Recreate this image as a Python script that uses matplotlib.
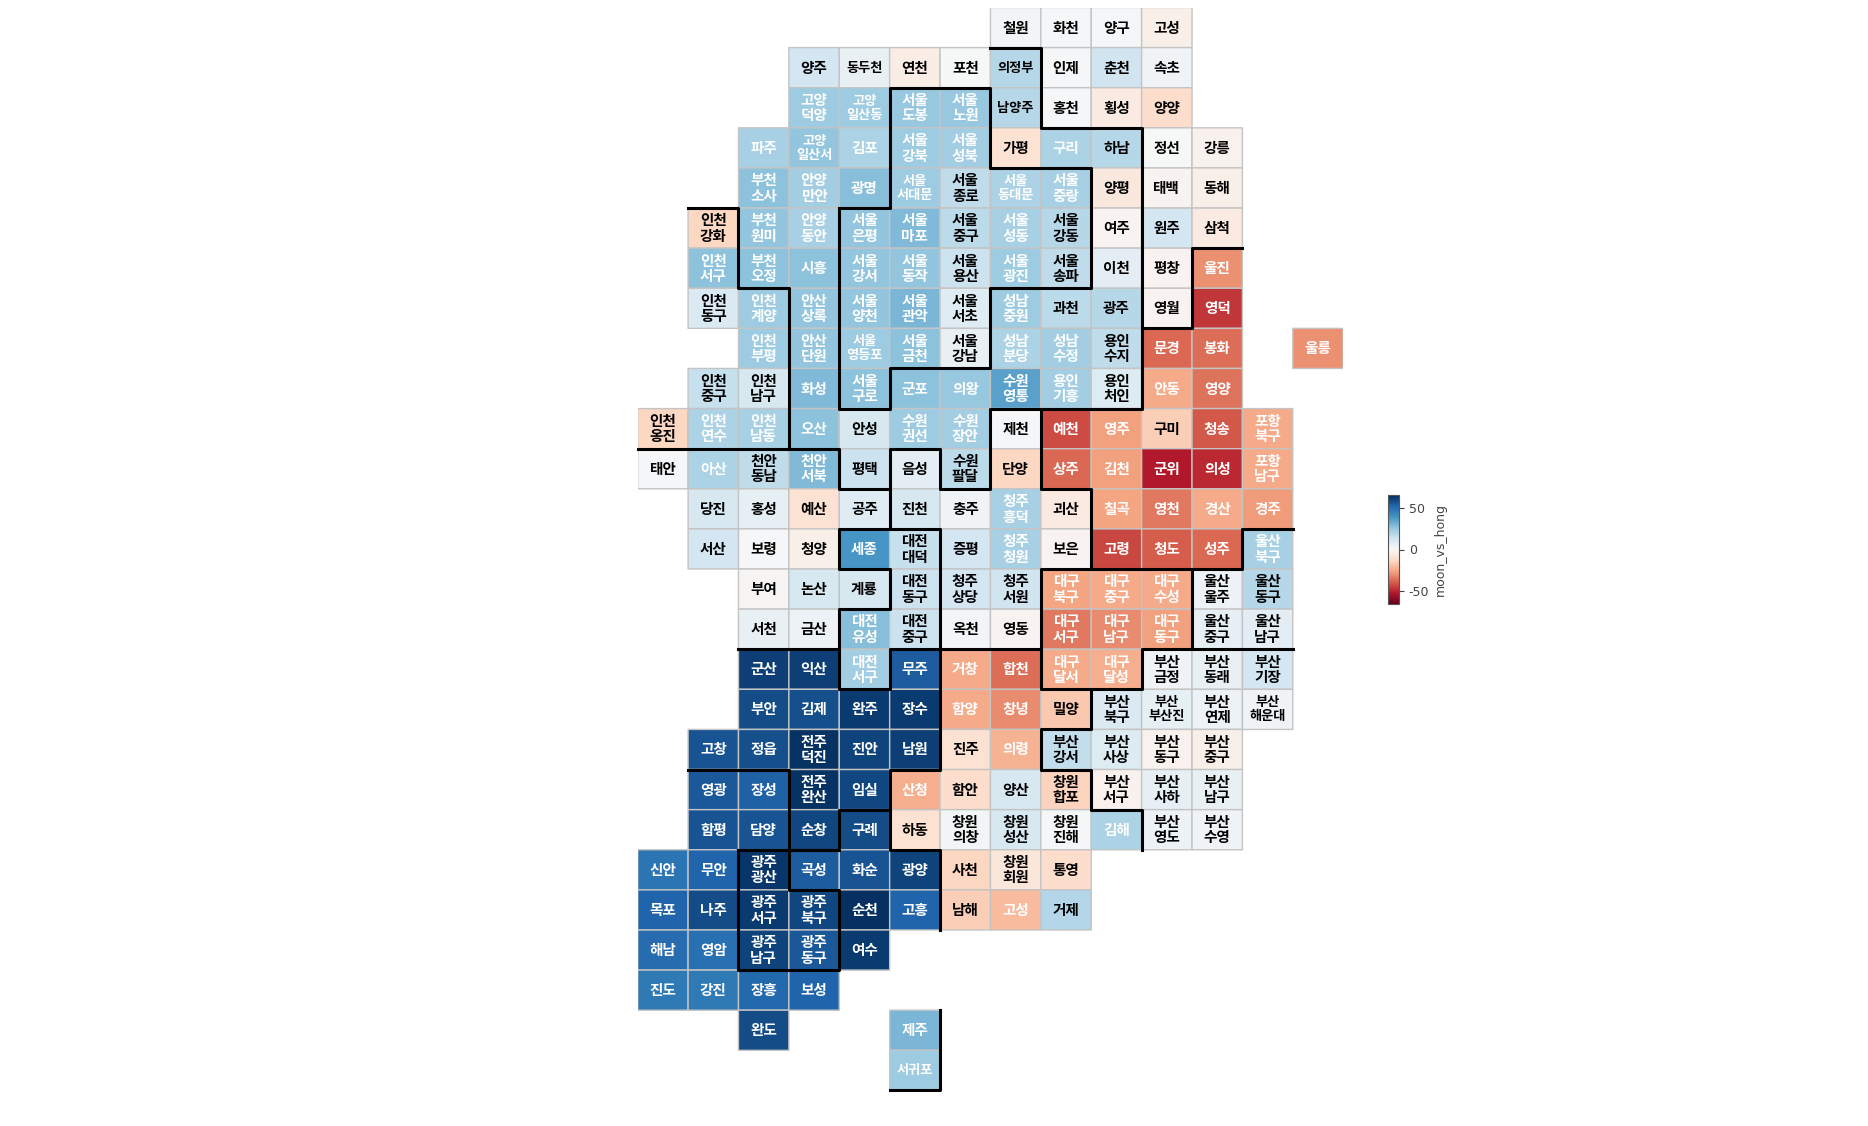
import numpy as np
import matplotlib
matplotlib.use('Agg')
import matplotlib.pyplot as plt

plt.rcParams['font.family'] = ['Noto Sans CJK KR', 'DejaVu Sans']
plt.rcParams['axes.unicode_minus'] = False

_ = ''
n = np.nan

# 지역 이름 (행 = y, 열 = x)
names = [
    [_, _, _, _, _, _, _, '철원', '화천', '양구', '고성(강원)', _, _, _],
    [_, _, _, '양주', '동두천', '연천', '포천', '의정부', '인제', '춘천', '속초', _, _, _],
    [_, _, _, '고양 덕양', '고양 일산동', '서울 도봉', '서울 노원', '남양주', '홍천', '횡성', '양양', _, _, _],
    [_, _, '파주', '고양 일산서', '김포', '서울 강북', '서울 성북', '가평', '구리', '하남', '정선', '강릉', _, _],
    [_, _, '부천 소사', '안양 만안', '광명', '서울 서대문', '서울 종로', '서울 동대문', '서울 중랑', '양평', '태백', '동해', _, _],
    [_, '인천 강화', '부천 원미', '안양 동안', '서울 은평', '서울 마포', '서울 중구', '서울 성동', '서울 강동', '여주', '원주', '삼척', _, _],
    [_, '인천 서구', '부천 오정', '시흥', '서울 강서', '서울 동작', '서울 용산', '서울 광진', '서울 송파', '이천', '평창', '울진', _, _],
    [_, '인천 동구', '인천 계양', '안산 상록', '서울 양천', '서울 관악', '서울 서초', '성남 중원', '과천', '광주', '영월', '영덕', _, _],
    [_, _, '인천 부평', '안산 단원', '서울 영등포', '서울 금천', '서울 강남', '성남 분당', '성남 수정', '용인 수지', '문경', '봉화', _, '울릉'],
    [_, '인천 중구', '인천 남구', '화성', '서울 구로', '군포', '의왕', '수원 영통', '용인 기흥', '용인 처인', '안동', '영양', _, _],
    ['인천 옹진', '인천 연수', '인천 남동', '오산', '안성', '수원 권선', '수원 장안', '제천', '예천', '영주', '구미', '청송', '포항 북구', _],
    ['태안', '아산', '천안 동남', '천안 서북', '평택', '음성', '수원 팔달', '단양', '상주', '김천', '군위', '의성', '포항 남구', _],
    [_, '당진', '홍성', '예산', '공주', '진천', '충주', '청주 흥덕', '괴산', '칠곡', '영천', '경산', '경주', _],
    [_, '서산', '보령', '청양', '세종', '대전 대덕', '증평', '청주 청원', '보은', '고령', '청도', '성주', '울산 북구', _],
    [_, _, '부여', '논산', '계룡', '대전 동구', '청주 상당', '청주 서원', '대구 북구', '대구 중구', '대구 수성', '울산 울주', '울산 동구', _],
    [_, _, '서천', '금산', '대전 유성', '대전 중구', '옥천', '영동', '대구 서구', '대구 남구', '대구 동구', '울산 중구', '울산 남구', _],
    [_, _, '군산', '익산', '대전 서구', '무주', '거창', '합천', '대구 달서', '대구 달성', '부산 금정', '부산 동래', '부산 기장', _],
    [_, _, '부안', '김제', '완주', '장수', '함양', '창녕', '밀양', '부산 북구', '부산 부산진', '부산 연제', '부산 해운대', _],
    [_, '고창', '정읍', '전주 덕진', '진안', '남원', '진주', '의령', '부산 강서', '부산 사상', '부산 동구', '부산 중구', _, _],
    [_, '영광', '장성', '전주 완산', '임실', '산청', '함안', '양산', '창원 합포', '부산 서구', '부산 사하', '부산 남구', _, _],
    [_, '함평', '담양', '순창', '구례', '하동', '창원 의창', '창원 성산', '창원 진해', '김해', '부산 영도', '부산 수영', _, _],
    ['신안', '무안', '광주 광산', '곡성', '화순', '광양', '사천', '창원 회원', '통영', _, _, _, _, _],
    ['목포', '나주', '광주 서구', '광주 북구', '순천', '고흥', '남해', '고성(경남)', '거제', _, _, _, _, _],
    ['해남', '영암', '광주 남구', '광주 동구', '여수', _, _, _, _, _, _, _, _, _],
    ['진도', '강진', '장흥', '보성', _, _, _, _, _, _, _, _, _, _],
    [_, _, '완도', _, _, '제주', _, _, _, _, _, _, _, _],
    [_, _, _, _, _, '서귀포', _, _, _, _, _, _, _, _],
]

# 문재인 - 홍준표 득표율 차이
moon_vs_hong = [
    [n, n, n, n, n, n, n, 2, 1, 1, -4, n, n, n],
    [n, n, n, 12, 5, -5, 0, 19, 1, 13, 3, n, n, n],
    [n, n, n, 24, 24, 25, 25, 19, 1, -6, -12, n, n, n],
    [n, n, 22, 26, 21, 24, 23, -10, 21, 19, 0, -3, n, n],
    [n, n, 27, 23, 28, 24, 17, 21, 22, -7, -2, -4, n, n],
    [n, -14, 26, 22, 26, 29, 18, 22, 19, -2, 12, -6, n, n],
    [n, 27, 27, 27, 26, 26, 14, 24, 17, 7, -2, -30, n, n],
    [n, 10, 24, 26, 26, 30, 8, 24, 18, 19, -2, -47, n, n],
    [n, n, 24, 26, 24, 27, 5, 21, 23, 17, -38, -37, n, -30],
    [n, 15, 11, 29, 27, 27, 25, 36, 23, 9, -25, -36, n, n],
    [-14, 21, 22, 27, 11, 24, 23, 1, -43, -27, -16, -41, -25, n],
    [1, 21, 17, 29, 14, 7, 18, -14, -38, -27, -53, -50, -25, n],
    [n, 11, 6, -10, 8, 11, 3, 22, -6, -26, -35, -25, -28, n],
    [n, 12, 1, -4, 39, 15, 12, 22, -2, -44, -40, -38, 22, n],
    [n, n, -1, 11, 11, 14, 12, 13, -26, -25, -25, 4, 19, n],
    [n, n, 5, 4, 28, 14, 2, -2, -35, -31, -27, 6, 7, n],
    [n, n, 62, 62, 23, 55, -25, -37, -25, -24, 3, 5, 12, n],
    [n, n, 59, 58, 63, 63, -25, -31, -18, 10, 6, 4, 3, n],
    [n, 57, 58, 65, 61, 62, -10, -23, 16, 9, -3, -4, n, n],
    [n, 56, 54, 65, 60, -24, -12, 11, -15, -3, 6, 5, n, n],
    [n, 57, 57, 60, 59, -10, 2, 11, 1, 21, 4, 3, n, n],
    [48, 53, 64, 55, 57, 61, -14, -8, -12, n, n, n, n, n],
    [53, 59, 63, 60, 66, 53, -16, -21, 19.5, n, n, n, n, n],
    [51, 50, 61, 56, 63, n, n, n, n, n, n, n, n, n],
    [47, 47, 52, 53, n, n, n, n, n, n, n, n, n, n],
    [n, n, 59, n, n, 30, n, n, n, n, n, n, n, n],
    [n, n, n, n, n, 24, n, n, n, n, n, n, n, n],
]

# 시도 경계 (y, x)
BORDER_LINES = [
    [(5, 1), (5, 2), (7, 2), (7, 3), (11, 3), (11, 0)],  # 인천
    [(5, 4), (5, 5), (2, 5), (2, 7), (4, 7), (4, 9), (7, 9), (7, 7), (9, 7), (9, 5), (10, 5), (10, 4), (5, 4)],  # 서울
    [(1, 7), (1, 8), (3, 8), (3, 10), (10, 10), (10, 7), (12, 7), (12, 6), (11, 6), (11, 5), (12, 5), (12, 4), (11, 4), (11, 3)],  # 경기도
    [(8, 10), (8, 11), (6, 11), (6, 12)],  # 강원도
    [(12, 5), (13, 5), (13, 4), (14, 4), (14, 5), (15, 5), (15, 4), (16, 4), (16, 2)],  # 충청
    [(16, 4), (17, 4), (17, 5), (16, 5), (16, 6), (19, 6), (19, 5), (20, 5), (20, 4), (21, 4), (21, 3), (19, 3), (19, 1)],  # 전라북도
    [(13, 5), (13, 6), (16, 6)],  # 대전
    [(21, 2), (21, 4), (21, 3), (22, 3), (22, 4), (24, 4), (24, 2), (21, 2)],  # 광주
    [(20, 5), (21, 5), (21, 6), (23, 6)],  # 전라남도
    [(10, 8), (12, 8), (12, 9), (14, 9), (14, 8), (16, 8), (16, 6)],  # 충청북도
    [(14, 9), (14, 11), (16, 11)],  # 대구 동쪽
    [(14, 11), (14, 12), (13, 12), (13, 13)],  # 경상북도
    [(16, 8), (17, 8), (17, 10), (16, 10), (16, 13)],  # 대구 달서
    [(17, 9), (18, 9), (18, 8), (19, 8), (19, 9), (20, 9), (20, 10), (21, 10)],  # 부산
    [(25, 6), (27, 6), (27, 5)],  # 제주
]

whitelabelmin = 20.

values = np.array(moon_vs_hong, dtype=float)
masked = np.ma.masked_invalid(values)
vmax = np.nanmax(np.abs(values))

fig = plt.figure(figsize=(18.68, 11.26), dpi=100)
W, H = 1868., 1126.
ax = fig.add_axes([637.7 / W, 1 - 1090.4 / H, 705.5 / W, 1082.9 / H])

mesh = ax.pcolor(masked, vmin=-vmax, vmax=vmax, cmap='RdBu', edgecolor='#c4c4c4', linewidth=1.0)

# 지역 이름 표시
for y, row in enumerate(names):
    for x, name in enumerate(row):
        if name == '':
            continue
        disp = name.split('(')[0].replace(' ', '\n')
        if len(disp.splitlines()[-1]) >= 3:
            fontsize, linespacing = 9.5, 1.0
        else:
            fontsize, linespacing = 10.5, 0.95
        color = 'white' if abs(values[y, x]) > whitelabelmin else 'black'
        ax.annotate(disp, (x + 0.5, y + 0.5), weight='bold', fontsize=fontsize, ha='center', va='center',
                    color=color, linespacing=linespacing)

# 시도 경계 그린다
for path in BORDER_LINES:
    ys, xs = zip(*path)
    ax.plot(xs, ys, c='black', lw=2.2, clip_on=False, solid_capstyle='projecting')

ax.set_xlim(0, 14)
ax.set_ylim(27, 0)
ax.axis('off')

cax = fig.add_axes([1388 / W, 1 - 604 / H, 11 / W, 109 / H])
cb = fig.colorbar(mesh, cax=cax, ticks=[-50, 0, 50])
cb.ax.tick_params(labelsize=9, length=3.5, width=0.8, labelcolor='#444444', color='#444444')
for t in cb.ax.get_yticklabels():
    t.set_family('DejaVu Sans')
cb.set_label('moon_vs_hong', fontsize=9, color='#444444', family='DejaVu Sans', labelpad=3)
cb.outline.set_edgecolor('#555555')

fig.savefig('out.png', dpi=100)
